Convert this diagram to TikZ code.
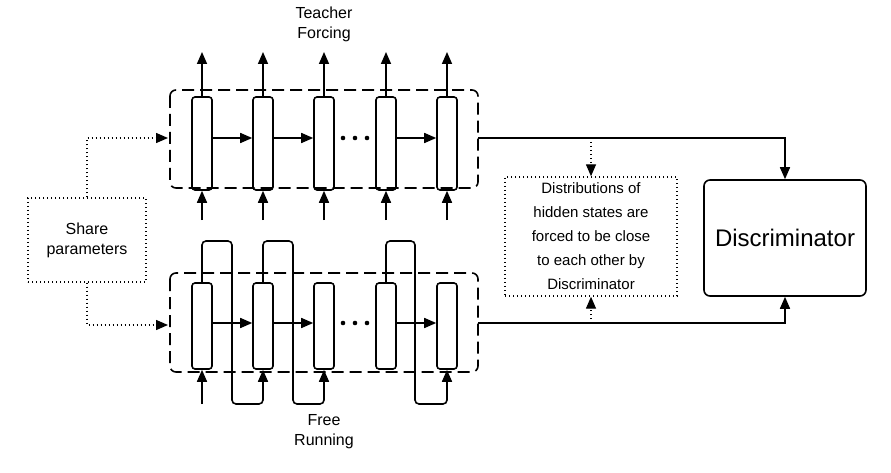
\documentclass[tikz,border=0pt]{standalone}
\usepackage{fontspec}
\setmainfont{Liberation Sans}
\usetikzlibrary{arrows.meta}
\begin{document}
\begin{tikzpicture}[x=1pt,y=-1pt,
 line width=1.6pt,
 arr/.style={-{Triangle[length=12pt,width=10pt]}},
 cell/.style={draw,rounded corners=3pt,minimum width=20pt,inner sep=0pt},
 dbox/.style={draw,dash pattern=on 12pt off 6pt,rounded corners=6pt},
 dot/.style={line width=1.4pt,dash pattern=on 1.4pt off 2.6pt},
 lbl/.style={font=\fontsize{16}{20}\selectfont,align=center}]
\useasboundingbox (0,0) rectangle (891,473);
\draw[dbox] (170,90) rectangle (478,188);
\draw[dbox] (170,273) rectangle (478,372);
\foreach \i/\x in {1/202,2/263,3/324,4/386,5/447}{
  \node[cell,minimum height=93pt] (t\i) at (\x,143.5) {};
  \node[cell,minimum height=86pt] (b\i) at (\x,326) {};
  \coordinate (ti\i) at (\x,220);
  \coordinate (to\i) at (\x,52);
  \draw[arr] (ti\i) -- (t\i.south);
  \draw[arr] (t\i.north) -- (to\i);
}
\foreach \a/\b in {1/2,2/3,4/5}{
  \draw[arr] (t\a.east|-0,138) -- (t\b.west|-0,138);
  \draw[arr] (b\a.east|-0,323) -- (b\b.west|-0,323);
}
\foreach \y in {138,323}{
  \foreach \dx in {0,12,24}{\fill (343+\dx,\y) circle (2.3pt);}
}
\coordinate (bi) at (202,404);
\draw[arr] (bi) -- (b1.south);
\foreach \a/\b/\m in {1/2/232,2/3/293,4/5/415}{
  \draw[arr,rounded corners=4pt] (b\a.north) |- (\m,241) |- (b\b.south|-0,404) -- (b\b.south);
}
\node[draw,dot,minimum width=118pt,minimum height=84pt,lbl] (sp) at (87,240) {Share\\parameters};
\draw[dot,arr] (sp.north) |- (168,138);
\draw[dot,arr] (sp.south) |- (168,325);
\node[draw,rounded corners=6pt,minimum width=162pt,minimum height=116pt,font=\fontsize{24}{24}\selectfont] (disc) at (785,238) {Discriminator};
\node[draw,dot,minimum width=172pt,minimum height=119pt,align=center,font=\fontsize{15}{24}\selectfont] (dist) at (591,236.5) {Distributions of\\hidden states are\\forced to be close\\to each other by\\Discriminator};
\draw[arr] (478,138) -| (disc.north);
\draw[arr] (478,323) -| (disc.south);
\draw[dot,arr] (591,138) -- (dist.north);
\draw[dot,arr] (591,323) -- (dist.south);
\node[lbl] (tf) at (324,24) {Teacher\\Forcing};
\node[lbl] (fr) at (324,432) {Free\\Running};
\end{tikzpicture}
\end{document}
